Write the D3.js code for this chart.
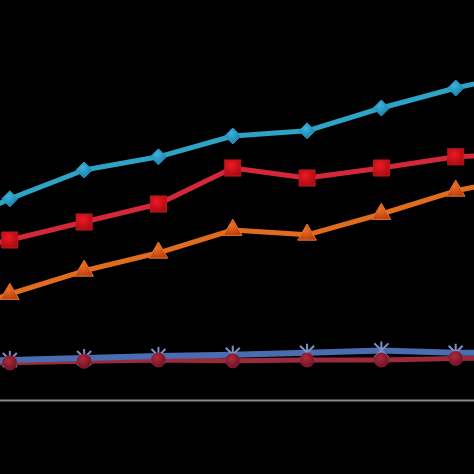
<!DOCTYPE html>
<html>
<head>
<meta charset="utf-8">
<script src="https://cdn.jsdelivr.net/npm/d3@7"></script>
<style>
  html, body { margin: 0; padding: 0; background: #000; }
  svg { display: block; }
</style>
</head>
<body>
<div id="chart"></div>
<script>
// categories (first and last fall just outside the visible frame)
var categories = ["0", "1", "2", "3", "4", "5", "6", "7", "8"];

// series values
var diamondSeries  = [42, 50.3, 57.5, 60.8, 66, 67.3, 73, 78, 82];
var squareSeries   = [36, 40, 44.5, 49, 58, 55.5, 58, 60.8, 61.5];
var triangleSeries = [20, 26.5, 32.3, 36.8, 42.5, 41.3, 46.5, 52.3, 56];
var starSeries     = [9.5, 10, 10.5, 11, 11.3, 11.8, 12.4, 11.8, 11.8];
var circleSeries   = [9, 9.3, 9.7, 10, 9.8, 10, 10, 10.4, 10.5];

var width = 474, height = 474;

var svg = d3.select("#chart").append("svg")
    .attr("width", width)
    .attr("height", height)
    .style("background", "#000");

var x = d3.scalePoint()
    .domain(categories)
    .range([-64.5, 530]);

var y = d3.scaleLinear()
    .domain([0, 100])
    .range([400, 0]);

// glossy fills for the markers
var defs = svg.append("defs");
function gloss(id, light, dark) {
    var g = defs.append("radialGradient")
        .attr("id", id)
        .attr("cx", "40%").attr("cy", "35%").attr("r", "70%");
    g.append("stop").attr("offset", "0%").attr("stop-color", light);
    g.append("stop").attr("offset", "100%").attr("stop-color", dark);
}
gloss("gDiamond", "#3cb4dc", "#157ca6");
gloss("gSquare", "#f01822", "#a80c14");
gloss("gTriangle", "#f07020", "#b83c10");
gloss("gCircle", "#b02a3c", "#6a1020");

// x axis line
svg.append("line")
    .attr("x1", 0).attr("x2", width)
    .attr("y1", y(0) + 0.5).attr("y2", y(0) + 0.5)
    .attr("stroke", "#8a8a8a")
    .attr("stroke-width", 2);

var line = d3.line()
    .x(function(d, i) { return x(categories[i]); })
    .y(function(d) { return y(d); });

function drawLine(data, color, w) {
    svg.append("path")
        .datum(data)
        .attr("fill", "none")
        .attr("stroke", color)
        .attr("stroke-width", w)
        .attr("stroke-linejoin", "round")
        .attr("d", line);
}

// bottom pair
drawLine(circleSeries, "#9c2a3c", 5);
drawLine(starSeries, "#4a6cb0", 6);

svg.selectAll(".star")
    .data(starSeries)
    .enter().append("path")
    .attr("class", "star")
    .attr("transform", function(d, i) { return "translate(" + x(categories[i]) + "," + y(d) + ")"; })
    .attr("d", "M-7,-7L7,7M7,-7L-7,7M0,-9L0,9")
    .attr("stroke", "#7f90c4")
    .attr("stroke-width", 2)
    .attr("fill", "none");

svg.selectAll(".dot")
    .data(circleSeries)
    .enter().append("circle")
    .attr("class", "dot")
    .attr("cx", function(d, i) { return x(categories[i]); })
    .attr("cy", function(d) { return y(d); })
    .attr("r", 7)
    .attr("fill", "url(#gCircle)")
    .attr("stroke", "#8a2036")
    .attr("stroke-width", 1);

// upper three
drawLine(triangleSeries, "#e26c1e", 5);
drawLine(squareSeries, "#d4283a", 5);
drawLine(diamondSeries, "#2ea3c6", 5);

svg.selectAll(".tri")
    .data(triangleSeries)
    .enter().append("path")
    .attr("class", "tri")
    .attr("transform", function(d, i) { return "translate(" + x(categories[i]) + "," + y(d) + ")"; })
    .attr("d", d3.symbol().type(d3.symbolTriangle).size(150))
    .attr("fill", "url(#gTriangle)")
    .attr("stroke", "#e07828")
    .attr("stroke-width", 1);

svg.selectAll(".sq")
    .data(squareSeries)
    .enter().append("rect")
    .attr("class", "sq")
    .attr("x", function(d, i) { return x(categories[i]) - 8; })
    .attr("y", function(d) { return y(d) - 8; })
    .attr("width", 16)
    .attr("height", 16)
    .attr("fill", "url(#gSquare)")
    .attr("stroke", "#c01822")
    .attr("stroke-width", 1);

svg.selectAll(".dia")
    .data(diamondSeries)
    .enter().append("path")
    .attr("class", "dia")
    .attr("transform", function(d, i) { return "translate(" + x(categories[i]) + "," + y(d) + ")"; })
    .attr("d", "M0,-8L8,0L0,8L-8,0Z")
    .attr("fill", "url(#gDiamond)")
    .attr("stroke", "#2a9cc4")
    .attr("stroke-width", 1);
</script>
</body>
</html>
